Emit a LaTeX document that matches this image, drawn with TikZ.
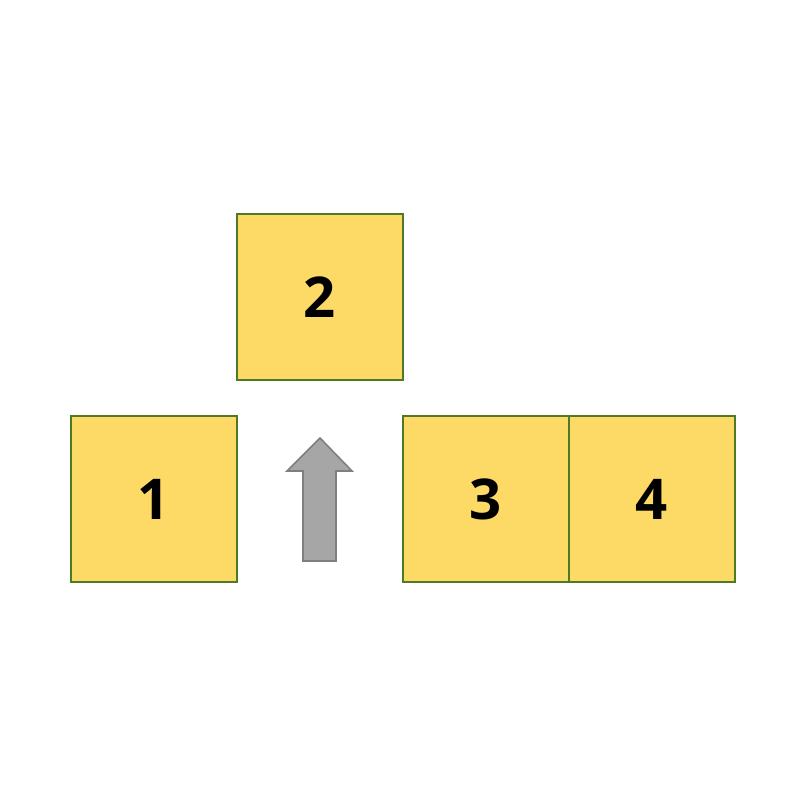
\documentclass[tikz,border=0pt]{standalone}
\usepackage{fontspec}
\setmainfont{Open Sans}
\usetikzlibrary{positioning}
\definecolor{boxfill}{HTML}{FDD966}
\definecolor{boxline}{HTML}{4E7A26}
\definecolor{arrfill}{HTML}{A6A6A6}
\definecolor{arrline}{HTML}{7F7F7F}
\begin{document}
\begin{tikzpicture}[
        node distance=0cm,
        tile/.style={rectangle, draw=boxline, fill=boxfill, line width=1.1pt, minimum size=3.32cm, inner sep=0pt, outer sep=0pt, font=\fontsize{32}{32}\selectfont\bfseries},
        uparrow/.style={draw=arrline, fill=arrfill, line width=0.9pt, line join=miter}
    ]
        \useasboundingbox (0,0) rectangle (16,-16);

        % bottom row
        \node[tile] (t1) at (3.08,-9.98) {1};
        \node[tile, right=3.32cm of t1] (t3) {3};
        \node[tile, right=of t3] (t4) {4};

        % moved tile
        \node[tile, above right=0.72cm and 0cm of t1] (t2) {2};

        % arrow pointing up to tile 2
        \draw[uparrow] (6.40,-8.76) -- (7.04,-9.42) -- (6.72,-9.42) -- (6.72,-11.22)
            -- (6.06,-11.22) -- (6.06,-9.42) -- (5.74,-9.42) -- cycle;
    \end{tikzpicture}
\end{document}
